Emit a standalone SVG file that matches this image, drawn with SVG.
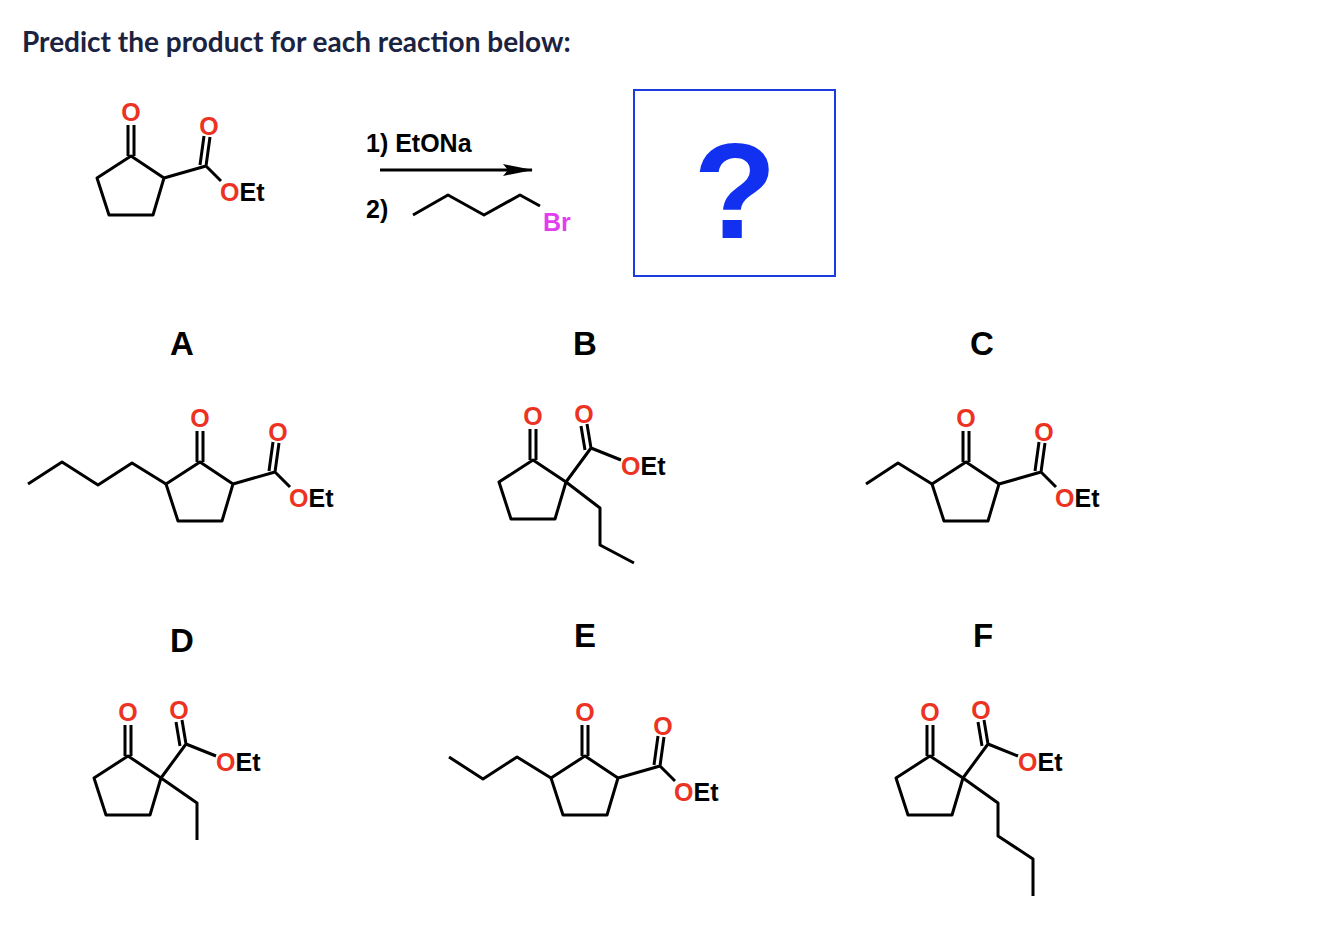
<svg xmlns="http://www.w3.org/2000/svg" width="1342" height="930" viewBox="0 0 1342 930">
<style>
.b{fill:none;stroke:#000;stroke-width:3;stroke-linejoin:round;stroke-linecap:butt}
.o{font:bold 25px "Liberation Sans",Arial,sans-serif;fill:#ec3323}
.et{fill:#000}
.t{font:bold 25px "Liberation Sans",Arial,sans-serif;fill:#000}
.lab{font:bold 33px "Liberation Sans",Arial,sans-serif;fill:#000}
</style>
<defs>
<g id="k1">
<path class="b" d="M-34,22 L0,0 L33,22 L22,59 L-22,59 Z M33,22 L75,10 L90,25 M-3,0 L-3,-31 M3,0 L3,-31 M75,10 L79,-19 M69,9 L73,-20"/>
<text class="o" x="0" y="-35" text-anchor="middle">O</text>
<text class="o" x="78" y="-21" text-anchor="middle">O</text>
<text class="o" x="89" y="45">O<tspan class="et">Et</tspan></text>
</g>
<g id="k2">
<path class="b" d="M-34,22 L0,0 L33,22 L22,59 L-22,59 Z M33,22 L58,-12 L88,0 M-3,0 L-3,-31 M3,0 L3,-31 M58,-12 L54,-36 M52,-10 L48,-34"/>
<text class="o" x="0" y="-35" text-anchor="middle">O</text>
<text class="o" x="51" y="-37" text-anchor="middle">O</text>
<text class="o" x="88" y="15">O<tspan class="et">Et</tspan></text>
</g>
<marker id="ah" viewBox="0 0 30 12" refX="29" refY="6" markerWidth="30" markerHeight="12" markerUnits="userSpaceOnUse" orient="auto"><path d="M0,0 L30,6 L0,12 L5,6 Z" fill="#000"/></marker>
</defs>
<text x="22" y="52" style="font:bold 28px Lato,'Liberation Sans',sans-serif;fill:#1b2340">Predict the product for each reaction below:</text>
<g id="reactant"><use href="#k1" x="131" y="156"/></g>
<g id="connectors">
<path class="b" d="M380,170 L532,170" marker-end="url(#ah)"/>
</g>
<g id="reagents">
<text class="t" x="366" y="152">1) EtONa</text>
<text class="t" x="366" y="218">2)</text>
<path class="b" d="M413,215 L448,195 L484,215 L520,195 L540,206"/>
<text x="543" y="231" style="font:bold 25px 'Liberation Sans',Arial,sans-serif;fill:#e23ef0">Br</text>
</g>
<g id="answer">
<rect x="634" y="90" width="201" height="186" fill="none" stroke="#1a3ce0" stroke-width="2"/>
<text x="735" y="238" text-anchor="middle" style="font:bold 136px 'Liberation Sans',Arial,sans-serif;fill:#1230f0">?</text>
</g>
<g id="labels">
<text class="lab" x="182" y="355" text-anchor="middle">A</text>
<text class="lab" x="585" y="355" text-anchor="middle">B</text>
<text class="lab" x="982" y="355" text-anchor="middle">C</text>
<text class="lab" x="182" y="652" text-anchor="middle">D</text>
<text class="lab" x="585" y="647" text-anchor="middle">E</text>
<text class="lab" x="983" y="647" text-anchor="middle">F</text>
</g>
<g id="A"><use href="#k1" x="200" y="462"/><path class="b" d="M166,484 L132,463 L98,485 L62,462 L28,484"/></g>
<g id="B"><use href="#k2" x="533" y="460"/><path class="b" d="M566,482 L600,508 L600,545 L634,563"/></g>
<g id="C"><use href="#k1" x="966" y="462"/><path class="b" d="M932,484 L898,463 L866,484"/></g>
<g id="D"><use href="#k2" x="128" y="756"/><path class="b" d="M161,778 L197,803 L197,840"/></g>
<g id="E"><use href="#k1" x="585" y="756"/><path class="b" d="M551,778 L517,757 L483,779 L449,757"/></g>
<g id="F"><use href="#k2" x="930" y="756"/><path class="b" d="M963,778 L998,803 L998,836 L1033,859 L1033,896"/></g>
</svg>
